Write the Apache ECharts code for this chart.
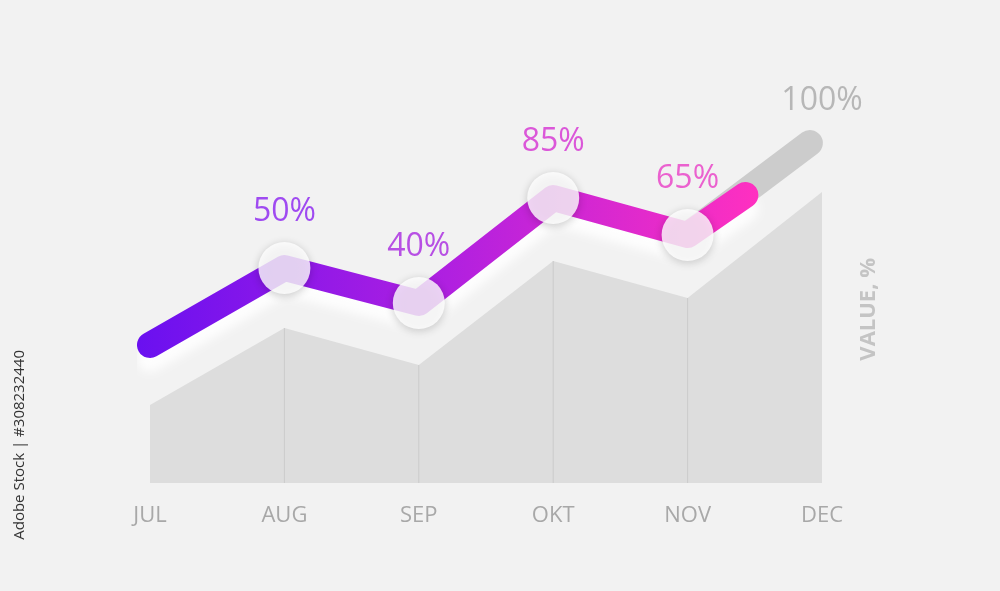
<!DOCTYPE html>
<html><head><meta charset="utf-8">
<script src="https://cdn.jsdelivr.net/npm/echarts@6/dist/echarts.min.js"></script>
<style>html,body{margin:0;background:#f2f2f2}#c{width:1000px;height:591px}</style>
</head><body><div id="c"></div>
<script>
var months = ['JUL', 'AUG', 'SEP', 'OKT', 'NOV', 'DEC'];
var areaValues = [19.5, 38.75, 29.5, 55.5, 46.25, 72.75];
var lineValues = [[0, 34.5], [1, 53.75], [2, 45], [3, 71.25], [4, 62], [4.43, 72]];
var trackValues = [[4, 62], [4.91, 85]];
var dotValues = [[1, 53.75], [2, 45], [3, 71.25], [4, 62]];
var dotLabels = ['50%', '40%', '85%', '65%'];
var dotColors = ['#8a1ff0', '#a826e0', '#d42fd2', '#e83cc6'];
var topLabel = '100%';

var myChart = echarts.init(document.getElementById('c'));
var option = {
    backgroundColor: '#f2f2f2',
    grid: { left: 150, right: 178, top: 83, bottom: 108 },
    xAxis: {
        type: 'value', min: 0, max: 5, interval: 1,
        axisLine: { show: false }, axisTick: { show: false }, splitLine: { show: false },
        axisLabel: {
            margin: 22, color: '#a8a8a8', fontSize: 22, fontFamily: 'Open Sans',
            formatter: function (v) { return months[v] || ''; }
        }
    },
    yAxis: { type: 'value', min: 0, max: 100, show: false },
    graphic: [
        { type: 'text', left: 858, top: 258, rotation: Math.PI / 2,
          style: { text: 'VALUE, %', fill: '#c4c4c4', font: 'bold 22px "Open Sans"' } },
        { type: 'text', left: 12, top: 350, rotation: Math.PI / 2,
          style: { text: 'Adobe Stock | #308232440', fill: '#333', font: '15px "Open Sans"' } }
    ],
    series: [
        {
            type: 'line', data: areaValues.map(function (v, i) { return [i, v]; }),
            symbol: 'none', lineStyle: { width: 0 }, areaStyle: { color: '#dddddd', opacity: 1 }, z: 1
        },
        {
            type: 'bar', data: areaValues.slice(1, 5).map(function (v, i) { return [i + 1, v]; }),
            barWidth: 1, itemStyle: { color: '#cbcbcb' }, z: 2
        },
        {
            type: 'line', data: trackValues, symbol: 'none', z: 3,
            lineStyle: { width: 26, color: '#cccccc', cap: 'round' }
        },
        {
            type: 'line', data: lineValues, symbol: 'none', z: 4,
            lineStyle: {
                width: 26, cap: 'round', join: 'round',
                shadowColor: 'rgba(255,255,255,0.9)', shadowBlur: 10, shadowOffsetY: 14,
                color: new echarts.graphic.LinearGradient(0, 0, 1, 0, [
                    { offset: 0, color: '#6a10f0' }, { offset: 0.5, color: '#b020e0' }, { offset: 1, color: '#ff30c0' }
                ])
            }
        },
        {
            type: 'scatter', data: dotValues, symbolSize: 52, z: 5,
            itemStyle: { color: '#ffffff', shadowColor: 'rgba(0,0,0,0.25)', shadowBlur: 8, shadowOffsetY: 2 },
            label: {
                show: true, position: 'top', distance: 14, fontSize: 32, fontFamily: 'Open Sans',
                formatter: function (p) { return dotLabels[p.dataIndex]; },
                color: function () { return '#000'; }
            },
            labelLayout: null
        },
        {
            type: 'scatter', data: [[5, 85]], symbolSize: 0, z: 5,
            label: { show: true, position: 'top', distance: 26, fontSize: 32, fontFamily: 'Open Sans',
                     color: '#a8a8a8', formatter: topLabel }
        }
    ]
};
// per-point label colours
option.series[4].data = dotValues.map(function (d, i) {
    return { value: d, label: { color: dotColors[i] } };
});
delete option.series[4].label.color;
myChart.setOption(option);
</script></body></html>
